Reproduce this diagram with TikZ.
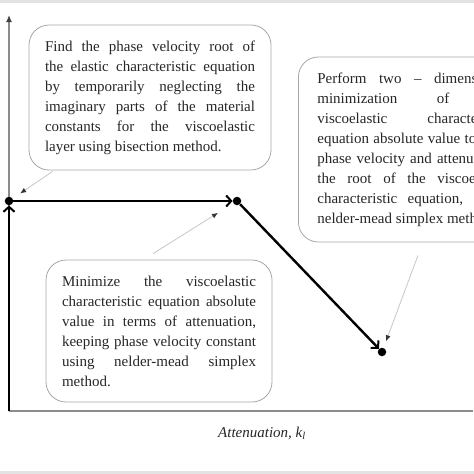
\documentclass[tikz,border=0pt]{standalone}
\usepackage{fontspec}
\setmainfont{Liberation Serif}
\usetikzlibrary{arrows.meta}
\tikzset{dot/.style={circle,fill=black,inner sep=0pt,minimum size=8.5pt}}
\tikzset{flow/.style={line width=2.4pt,-{Straight Barb[length=5pt,width=11pt,line width=2pt]}}}
\tikzset{pointer/.style={draw=gray!45,line width=0.8pt,-{Latex[length=6pt,width=5pt,color=black!80]}}}
\tikzset{axis/.style={draw=gray!90,line width=1.4pt}}
\tikzset{box/.style={draw=gray!70,line width=0.8pt,rounded corners=20pt,align=justify,
    inner ysep=0pt,text=black!85,font=\fontsize{15}{20}\selectfont}}
\newcommand{\jl}[1]{\makebox[\hsize][s]{#1}\\}

\begin{document}
\begin{tikzpicture}[x=1pt,y=-1pt]
  \clip (0,0) rectangle (474,474);
  \fill[gray!22] (0,0) rectangle (474,3);
  \fill[gray!22] (0,471) rectangle (474,474);
  % axes
  \coordinate (o) at (9,411);
  \coordinate (ytop) at (9,15);
  \coordinate (xend) at (473,411);
  \draw[axis,-{Latex[length=7pt,width=6pt,color=black!75]}] (o) -- (ytop);
  \draw[axis] (o) -- (xend);
  \node[font=\fontsize{15}{18}\selectfont\itshape,text=black!85] (xlab) at (262,433) {Attenuation, k\textsubscript{l}};
  % points of the search
  \node[dot] (p1) at (9,201) {};
  \node[dot] (p2) at (237,201) {};
  \node[dot] (p3) at (382,352) {};
  \draw[flow] (o) -- (p1);
  \draw[flow] (p1) -- (p2);
  \draw[flow] (p2) -- (p3);
  % steps
  \node[box,text width=210pt,inner xsep=16pt,minimum height=145pt] (step1) at (150,97.5) {%
    \jl{Find the phase velocity root of}
    \jl{the elastic characteristic equation}
    \jl{by temporarily neglecting the}
    \jl{imaginary parts of the material}
    \jl{constants for the viscoelastic}
    layer using bisection method.};
  \node[box,text width=190pt,inner xsep=19pt,minimum height=185pt,anchor=west] (step2) at (298,149.5) {%
    \jl{Perform two -- dimensional}
    \jl{minimization of the}
    \jl{viscoelastic characteristic}
    \jl{equation absolute value to both}
    \jl{phase velocity and attenuation,}
    \jl{the root of the viscoelastic}
    \jl{characteristic equation, using}
    nelder-mead simplex method.};
  \node[box,text width=194pt,inner xsep=16pt,minimum height=142pt] (step3) at (159,331) {%
    \jl{Minimize the viscoelastic}
    \jl{characteristic equation absolute}
    \jl{value in terms of attenuation,}
    \jl{keeping phase velocity constant}
    \jl{using nelder-mead simplex}
    method.};
  \draw[pointer,shorten >=9pt] ([xshift=24pt,yshift=-1pt]step1.south west) -- (p1);
  \draw[pointer,shorten >=18pt] ([xshift=-6pt,yshift=6pt]step3.north) -- (p2);
  \draw[pointer,shorten >=7pt] ([xshift=120pt,yshift=-13pt]step2.south west) -- (p3);
\end{tikzpicture}
\end{document}
